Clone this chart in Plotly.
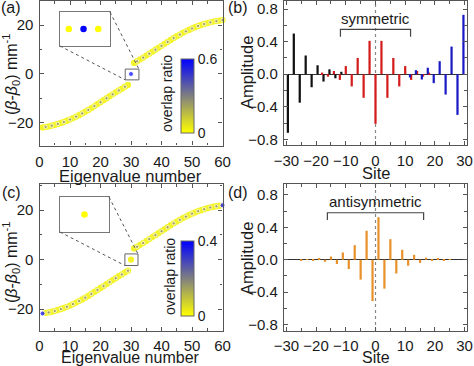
import plotly.graph_objects as go

W, H = 474, 366

# ---------------- data ----------------
eig_n = list(range(1, 61))
eig_lower = [-21.8, -21.6, -21.4, -21.1, -20.8, -20.4, -20.0, -19.6, -19.1, -18.6,
             -18.0, -17.4, -16.8, -16.1, -15.4, -14.7, -13.9, -13.1, -12.3, -11.5,
             -10.7, -9.9, -9.1, -8.3, -7.5, -6.7, -6.0, -5.2, -4.5]
eig_mid = [0.0]
eig_upper = [4.5, 5.2, 6.0, 6.7, 7.5, 8.3, 9.1, 9.9, 10.7, 11.5,
             12.3, 13.1, 13.9, 14.7, 15.4, 16.1, 16.8, 17.4, 18.0, 18.6,
             19.1, 19.6, 20.0, 20.4, 20.8, 21.1, 21.4, 21.6, 21.8, 22.0]
eig_val = eig_lower + eig_mid + eig_upper

# overlap ratio of each eigenmode with the symmetric (a) / antisymmetric (c) input
ov_sym = [0.0, 0.3] * 14 + [0.0, 0.6] + [0.0, 0.3] * 14 + [0.0, 0.3]
ov_anti = [0.4] + [0.0, 0.2] * 14 + [0.0] + [0.0, 0.2] * 14 + [0.0, 0.4]
sym_cmax = 0.6
anti_cmax = 0.4

inset_a_pos = [1, 2, 3]
inset_a_val = [0, 0, 0]
inset_a_ov = [0.0, 0.6, 0.0]
inset_c_pos = [2]
inset_c_val = [0]
inset_c_ov = [0.0]

left_sites = list(range(-30, -11, 2))
left_amp = [-0.72, 0.50, -0.35, 0.23, -0.16, 0.11, -0.09, 0.06, -0.05, 0.03]
center_sites = list(range(-18, 19, 2))
center_amp = [0.02, -0.03, 0.04, -0.07, 0.10, -0.15, 0.20, -0.29, 0.41, -0.61,
              0.41, -0.29, 0.20, -0.15, 0.10, -0.07, 0.04, -0.03, 0.02]
right_sites = list(range(12, 31, 2))
right_amp = [-0.04, 0.05, -0.065, 0.08, -0.11, 0.16, -0.25, 0.34, -0.50, 0.73]

anti_sites = list(range(-25, 26, 2))
anti_amp = [-0.005, 0.005, -0.01, 0.01, -0.025, 0.04, -0.053, 0.09, -0.115, 0.18, -0.246, 0.357, -0.51,
            0.525, -0.357, 0.254, -0.17, 0.123, -0.074, 0.06, -0.04, 0.025, -0.01, 0.01, -0.005, 0.005]

# ---------------- helpers ----------------
def px(x):
    return x / W

def py(y):
    return 1 - y / H

FONT = "Liberation Sans, Arial, sans-serif"
TXT = "#1a1a1a"
AX = "#555555"
colorscale = [[0, "#ffff00"], [0.5, "#808080"], [1, "#0000ff"]]

dom = {
    "xa": [px(39.5), px(222.5)], "ya": [py(145.5), py(1)],
    "xb": [px(284), px(467)], "yb": [py(145), py(1)],
    "yc": [py(331), py(184)], "yd": [py(331), py(184)],
}
rng = {
    "xa": [0, 60], "ya": [-29.2, 29.8], "yc": [-28.9, 30.6],
    "xb": [-30.8, 30.8], "yb": [-0.87, 0.90], "yd": [-0.88, 0.935],
}

def to_paper(v, key):
    d0, d1 = dom[key]
    r0, r1 = rng[key]
    return d0 + (v - r0) / (r1 - r0) * (d1 - d0)

fig = go.Figure()

def spectrum(xax, yax, ov, cax, cmax):
    band_x = [n for n, o in zip(eig_n, ov) if o < 0.9 * cmax]
    band_y = [v for v, o in zip(eig_val, ov) if o < 0.9 * cmax]
    fig.add_trace(go.Scatter(x=band_x, y=band_y, mode="markers", xaxis=xax, yaxis=yax,
                             marker=dict(size=6.3, color="#f4f42c"), cliponaxis=False,
                             showlegend=False, hoverinfo="skip"))
    dx = [n for n, o in zip(eig_n, ov) if o > 0]
    dy = [v for v, o in zip(eig_val, ov) if o > 0]
    dc = [o for o in ov if o > 0]
    ds = [5 if o >= 0.9 * cmax else 3.3 for o in dc]
    fig.add_trace(go.Scatter(x=dx, y=dy, mode="markers", xaxis=xax, yaxis=yax,
                             marker=dict(size=ds, color=dc, coloraxis=cax), cliponaxis=False,
                             showlegend=False))

spectrum("x", "y", ov_sym, "coloraxis", sym_cmax)
spectrum("x3", "y3", ov_anti, "coloraxis2", anti_cmax)

# insets
fig.add_trace(go.Scatter(x=inset_a_pos, y=inset_a_val, mode="markers", xaxis="x5", yaxis="y5",
                         marker=dict(size=6.5, color=inset_a_ov, coloraxis="coloraxis"), showlegend=False))
fig.add_trace(go.Scatter(x=inset_c_pos, y=inset_c_val, mode="markers", xaxis="x6", yaxis="y6",
                         marker=dict(size=6.5, color=inset_c_ov, coloraxis="coloraxis2"), showlegend=False))

# bars
BW = 0.75
fig.add_trace(go.Bar(x=left_sites, y=left_amp, xaxis="x2", yaxis="y2", width=BW, offset=0.5 - BW / 2,
                     marker=dict(color="#101010", line_width=0), showlegend=False))
fig.add_trace(go.Bar(x=center_sites, y=center_amp, xaxis="x2", yaxis="y2", width=BW, offset=-BW / 2,
                     marker=dict(color="#d41c1c", line_width=0), showlegend=False))
fig.add_trace(go.Bar(x=right_sites, y=right_amp, xaxis="x2", yaxis="y2", width=BW, offset=-0.4 - BW / 2,
                     marker=dict(color="#1a1ac4", line_width=0), showlegend=False))
fig.add_trace(go.Bar(x=anti_sites, y=anti_amp, xaxis="x4", yaxis="y4", width=BW, offset=-BW / 2,
                     marker=dict(color="#e8902a", line_width=0), showlegend=False))

axis_common = dict(showline=True, mirror="ticks", linecolor=AX, linewidth=1.3, ticks="inside",
                   ticklen=4, tickwidth=1, tickcolor=AX, showgrid=False, zeroline=False,
                   tickfont=dict(family=FONT, size=15, color=TXT))

def xax_eig(anchor, standoff):
    return dict(axis_common, domain=dom["xa"], range=rng["xa"], dtick=10, tick0=0, anchor=anchor,
                minor=dict(ticks="inside", ticklen=2.5, dtick=5, tickcolor=AX), ticklabelstandoff=standoff)

def yax_eig(key, anchor):
    return dict(axis_common, domain=dom[key], range=rng[key], dtick=20, tick0=0, anchor=anchor,
                minor=dict(ticks="inside", ticklen=2.5, dtick=10, tickcolor=AX), ticklabelstandoff=2)

def xax_site(anchor, standoff):
    return dict(axis_common, domain=dom["xb"], range=rng["xb"], dtick=10, tick0=0, anchor=anchor,
                minor=dict(ticks="inside", ticklen=2.5, dtick=5, tickcolor=AX), ticklabelstandoff=standoff)

def yax_amp(key, anchor):
    return dict(axis_common, domain=dom[key], range=rng[key], dtick=0.4, tick0=0, anchor=anchor,
                tickformat=".1f", zeroline=True, zerolinecolor="#333333", zerolinewidth=1.4,
                minor=dict(ticks="inside", ticklen=2.5, dtick=0.2, tickcolor=AX), ticklabelstandoff=2)

inset_ax = dict(showline=True, mirror=True, linecolor="#777777", linewidth=1, ticks="",
                showticklabels=False, showgrid=False, zeroline=False)

cb_common = dict(thickness=12.5, thicknessmode="pixels", lenmode="fraction", xanchor="left",
                 yanchor="middle", xpad=0, ypad=0, outlinewidth=1, outlinecolor="#666666", ticks="",
                 tickfont=dict(family=FONT, size=14, color=TXT))

fig.update_layout(
    width=W, height=H, margin=dict(l=0, r=0, t=0, b=0, autoexpand=False),
    paper_bgcolor="white", plot_bgcolor="white", barmode="overlay",
    font=dict(family=FONT, color=TXT),
    xaxis=xax_eig("y", 2), yaxis=yax_eig("ya", "x"),
    xaxis2=xax_site("y2", 2), yaxis2=yax_amp("yb", "x2"),
    xaxis3=xax_eig("y3", 1), yaxis3=yax_eig("yc", "x3"),
    xaxis4=xax_site("y4", 1), yaxis4=yax_amp("yd", "x4"),
    xaxis5=dict(inset_ax, domain=[px(60), px(110)], range=[0.4, 3.8], anchor="y5"),
    yaxis5=dict(inset_ax, domain=[py(46), py(12)], range=[-1, 1], anchor="x5"),
    xaxis6=dict(inset_ax, domain=[px(60), px(109)], range=[0, 4], anchor="y6"),
    yaxis6=dict(inset_ax, domain=[py(232), py(197)], range=[-1, 1], anchor="x6"),
    coloraxis=dict(colorscale=colorscale, cmin=0, cmax=sym_cmax,
                   colorbar=dict(cb_common, x=px(180.7), y=py(96), len=74 / H,
                                 tickvals=[0, sym_cmax], ticktext=["0", "0.6"])),
    coloraxis2=dict(colorscale=colorscale, cmin=0, cmax=anti_cmax,
                    colorbar=dict(cb_common, x=px(180.5), y=py(278.5), len=75 / H,
                                  tickvals=[0, anti_cmax], ticktext=["0", "0.4"])),
)

shapes = []
# zoom boxes + connectors
for (bx0, bx1, by0, by1, ykey, ins_x, ins_y) in [
    (28.1, 32.6, -2.4, 2.0, "ya", (60, 110), (12, 46)),
    (28.0, 32.3, -2.4, 2.3, "yc", (60, 109), (197, 232)),
]:
    yref = "y" if ykey == "ya" else "y3"
    xref = "x" if ykey == "ya" else "x3"
    shapes.append(dict(type="rect", xref=xref, yref=yref, x0=bx0, x1=bx1, y0=by0, y1=by1,
                       line=dict(color="#666666", width=1)))
    shapes.append(dict(type="line", xref="paper", yref="paper",
                       x0=px(ins_x[1]), y0=py(ins_y[0]), x1=to_paper(bx1, "xa"), y1=to_paper(by1, ykey),
                       line=dict(color="#555555", width=1, dash="dot")))
    shapes.append(dict(type="line", xref="paper", yref="paper",
                       x0=px(ins_x[0]), y0=py(ins_y[1]), x1=to_paper(bx0, "xa"), y1=to_paper(by0, ykey),
                       line=dict(color="#555555", width=1, dash="dot")))

# dotted vertical line at site 0 and brackets
for xr, yr, half, ylo, yhi in [("x2", "y2", 11.8, 0.46, 0.55), ("x4", "y4", 16.2, 0.49, 0.58)]:
    shapes.append(dict(type="line", xref=xr, yref=yr + " domain", x0=0, x1=0, y0=0, y1=1,
                       line=dict(color="#888888", width=1.2, dash="dot"), layer="below"))
    shapes.append(dict(type="path", xref=xr, yref=yr,
                       path=f"M {-half},{ylo} L {-half},{yhi} L {half},{yhi} L {half},{ylo}",
                       line=dict(color="#444444", width=1.2)))

fig.update_layout(shapes=shapes)

ann = []
def text(x, y, s, size=16, angle=0, xanchor="center", yanchor="middle"):
    ann.append(dict(x=px(x), y=py(y), xref="paper", yref="paper", text=s, showarrow=False,
                    textangle=angle, xanchor=xanchor, yanchor=yanchor,
                    font=dict(family=FONT, size=size, color=TXT)))

text(11, 7, "(a)")
text(238, 7, "(b)")
text(11, 192, "(c)")
text(238, 192, "(d)")
ylab = "(<i>β</i>-<i>β</i><sub>0</sub>) mm<sup>-1</sup>"
text(11, 74, ylab, angle=-90)
text(11, 262, ylab, angle=-90)
text(130, 176, "Eigenvalue number", size=16.5)
text(130, 357.5, "Eigenvalue number", size=16)
text(376, 173, "Site", size=16.5)
text(376, 357.5, "Site", size=16)
text(247, 72, "Amplitude", size=16.5, angle=-90)
text(247, 258, "Amplitude", size=16.5, angle=-90)
text(167, 94, "overlap ratio", size=14, angle=-90)
text(170, 277, "overlap ratio", size=14, angle=-90)
ann.append(dict(x=0, y=0.555, xref="x2", yref="y2", text="symmetric", showarrow=False,
                yanchor="bottom", font=dict(family=FONT, size=15, color=TXT)))
ann.append(dict(x=0, y=0.585, xref="x4", yref="y4", text="antisymmetric", showarrow=False,
                yanchor="bottom", font=dict(family=FONT, size=15, color=TXT)))
fig.update_layout(annotations=ann)

fig.write_html("out.html", config={"displayModeBar": False},
               post_script="document.body.style.margin='0px';document.body.style.overflow='hidden';")
